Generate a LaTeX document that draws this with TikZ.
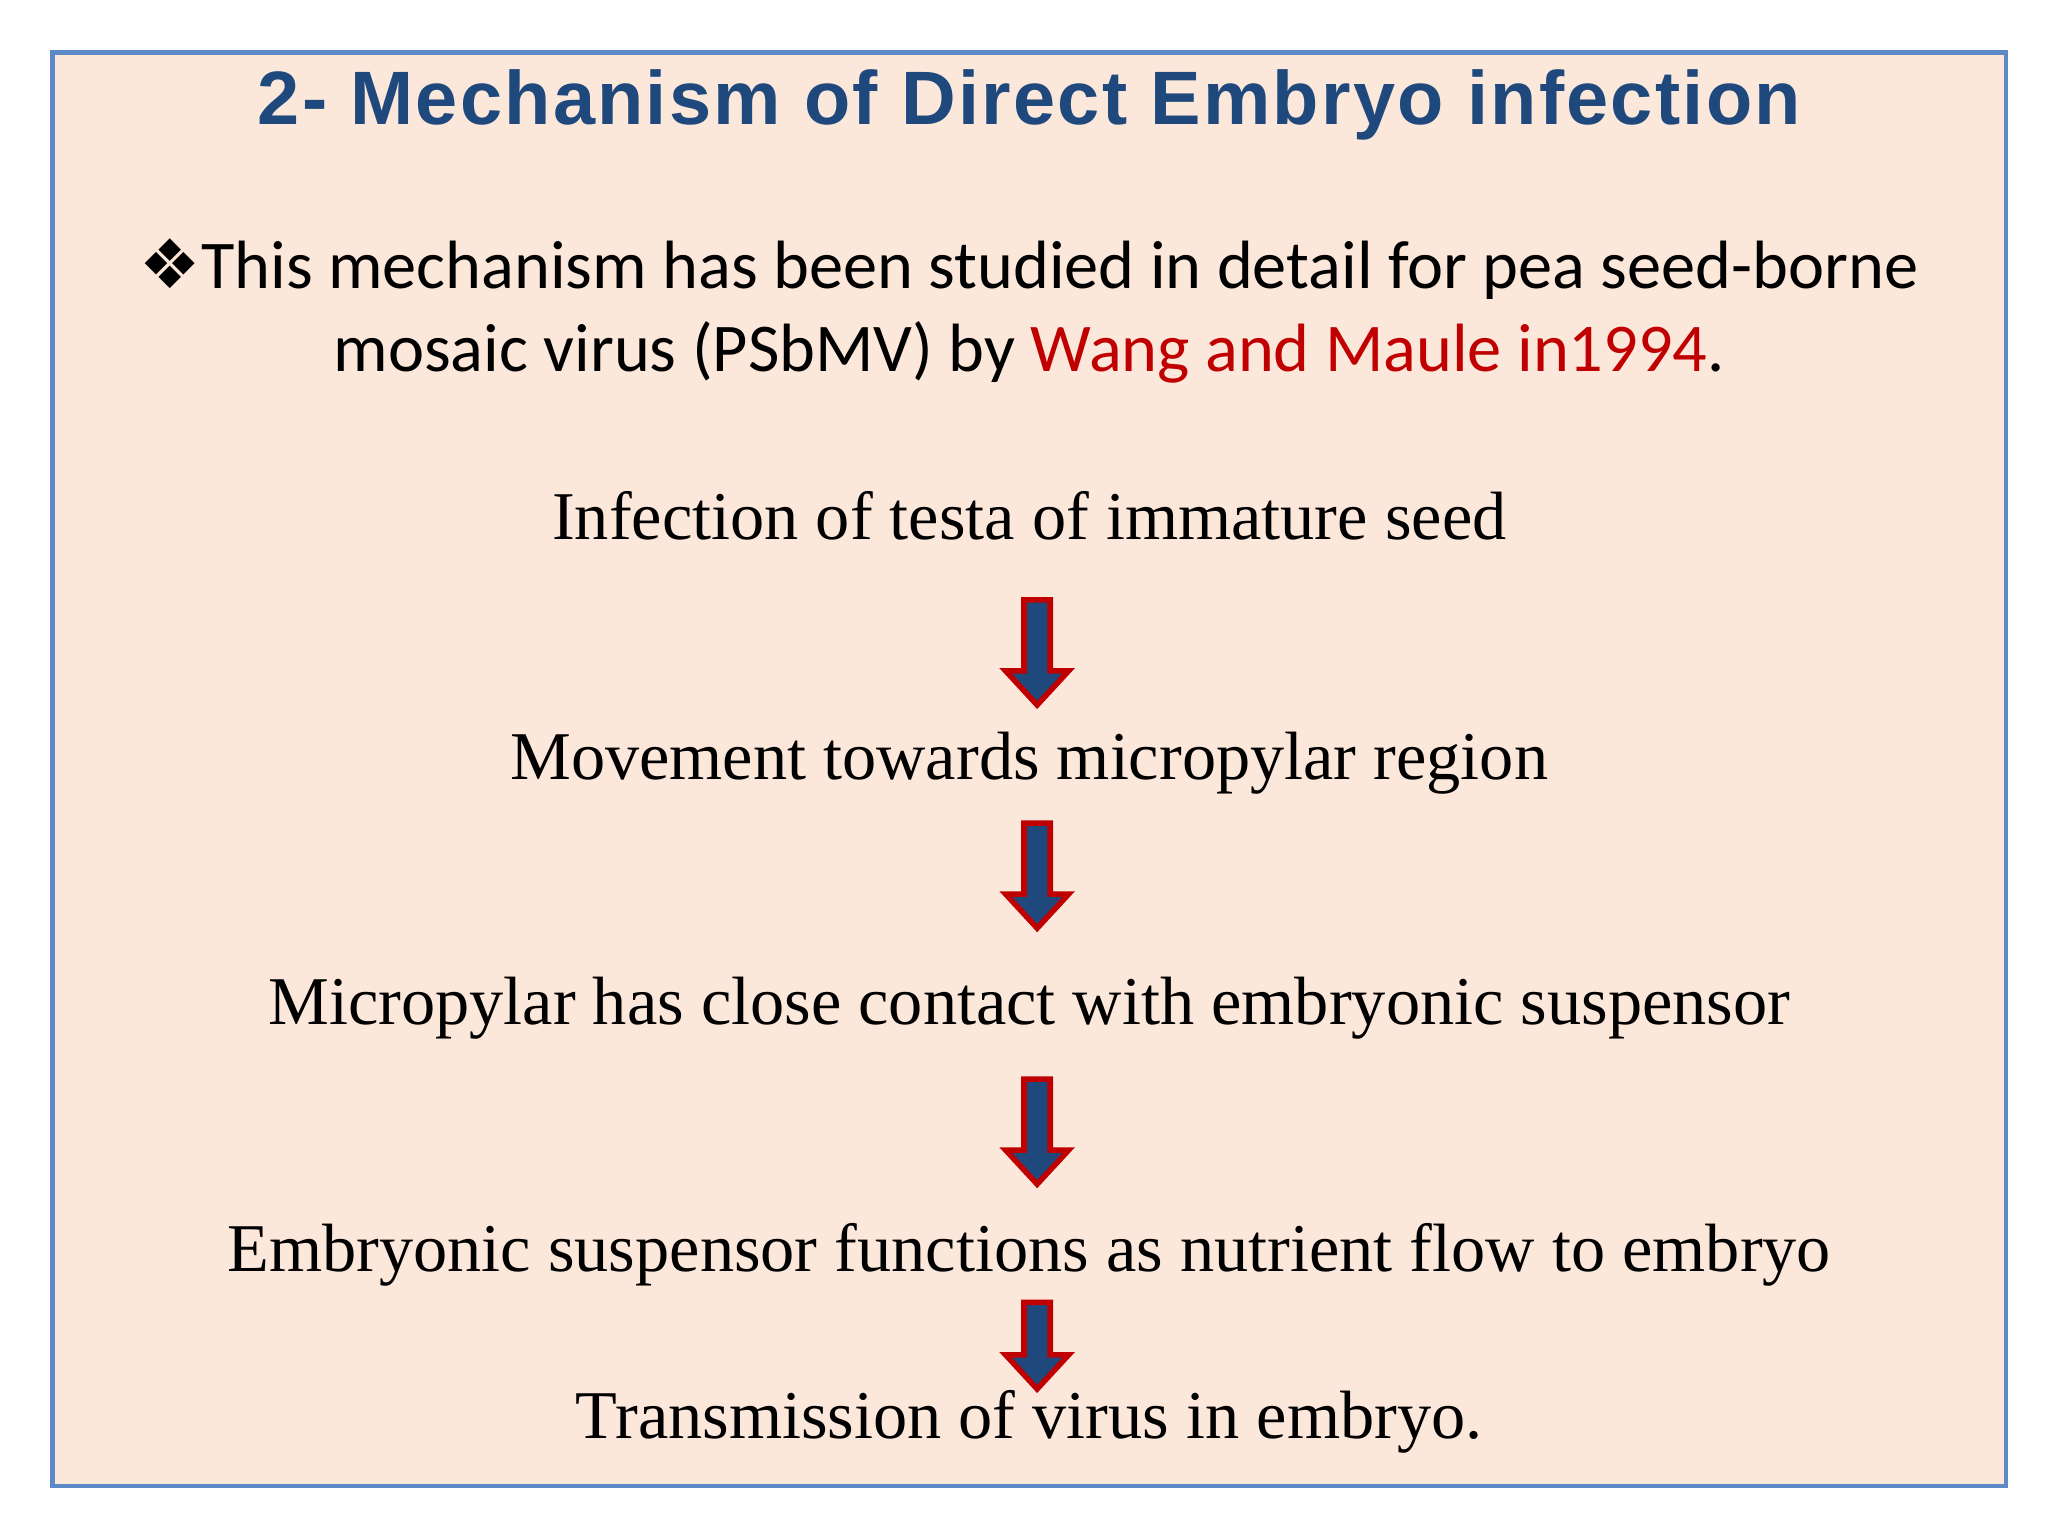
\documentclass[tikz,border=0pt]{standalone}
\usepackage{fontspec}
\setmainfont{Liberation Serif}
\newfontfamily\calibri{Carlito}
\newfontfamily\headfont[LetterSpace=3]{Liberation Sans}
\newfontfamily\symb{DejaVu Sans}
\definecolor{framefill}{HTML}{FCE7DB}
\definecolor{framedraw}{HTML}{5B8AC6}
\definecolor{titleblue}{HTML}{1F497D}
\definecolor{refred}{HTML}{C00000}
\definecolor{arrowblue}{HTML}{1F497D}
\tikzset{
  stage/.style={font=\fontsize{14.8}{17}\selectfont, inner sep=0pt},
  flow/.style={fill=arrowblue, draw=refred, line width=1.2pt, line join=miter}
}
% block arrow from y=#2 down to y=#3 at x=#1
\newcommand\flowarrow[3]{%
  \draw[flow] (#1-10,#2) -- (#1+10,#2) -- (#1+10,#3-26) -- (#1+24,#3-26)
    -- (#1,#3) -- (#1-24,#3-26) -- (#1-10,#3-26) -- cycle;}
\begin{document}
\begin{tikzpicture}[x=0.01cm,y=-0.01cm]
  \useasboundingbox (0,0) rectangle (1560,1170);
  \draw[fill=framefill, draw=framedraw, line width=1pt] (40,40) rectangle (1528,1132);
  \node[font=\headfont\bfseries\fontsize{16.4}{19}\selectfont, text=titleblue] (title) at (784,80)
    {2- Mechanism of Direct Embryo infection};
  \node[font=\calibri\fontsize{14.8}{17.9}\selectfont, align=center] (intro) at (784,237)
    {{\symb\char"2756}This mechanism has been studied in detail for pea seed-borne\\
     mosaic virus (PSbMV) by \textcolor{refred}{Wang and Maule in1994}.};
  \node[stage] (s1) at (784,393) {Infection of testa of immature seed};
  \node[stage] (s2) at (784,581) {Movement towards micropylar region};
  \node[stage] (s3) at (784,768) {Micropylar has close contact with embryonic suspensor};
  \node[stage] (s4) at (784,956) {Embryonic suspensor functions as nutrient flow to embryo};
  \node[stage] (s5) at (784,1083) {Transmission of virus in embryo.};
  \flowarrow{790}{457}{537}
  \flowarrow{790}{627}{707}
  \flowarrow{790}{822}{902}
  \flowarrow{790}{992}{1058}
\end{tikzpicture}
\end{document}
